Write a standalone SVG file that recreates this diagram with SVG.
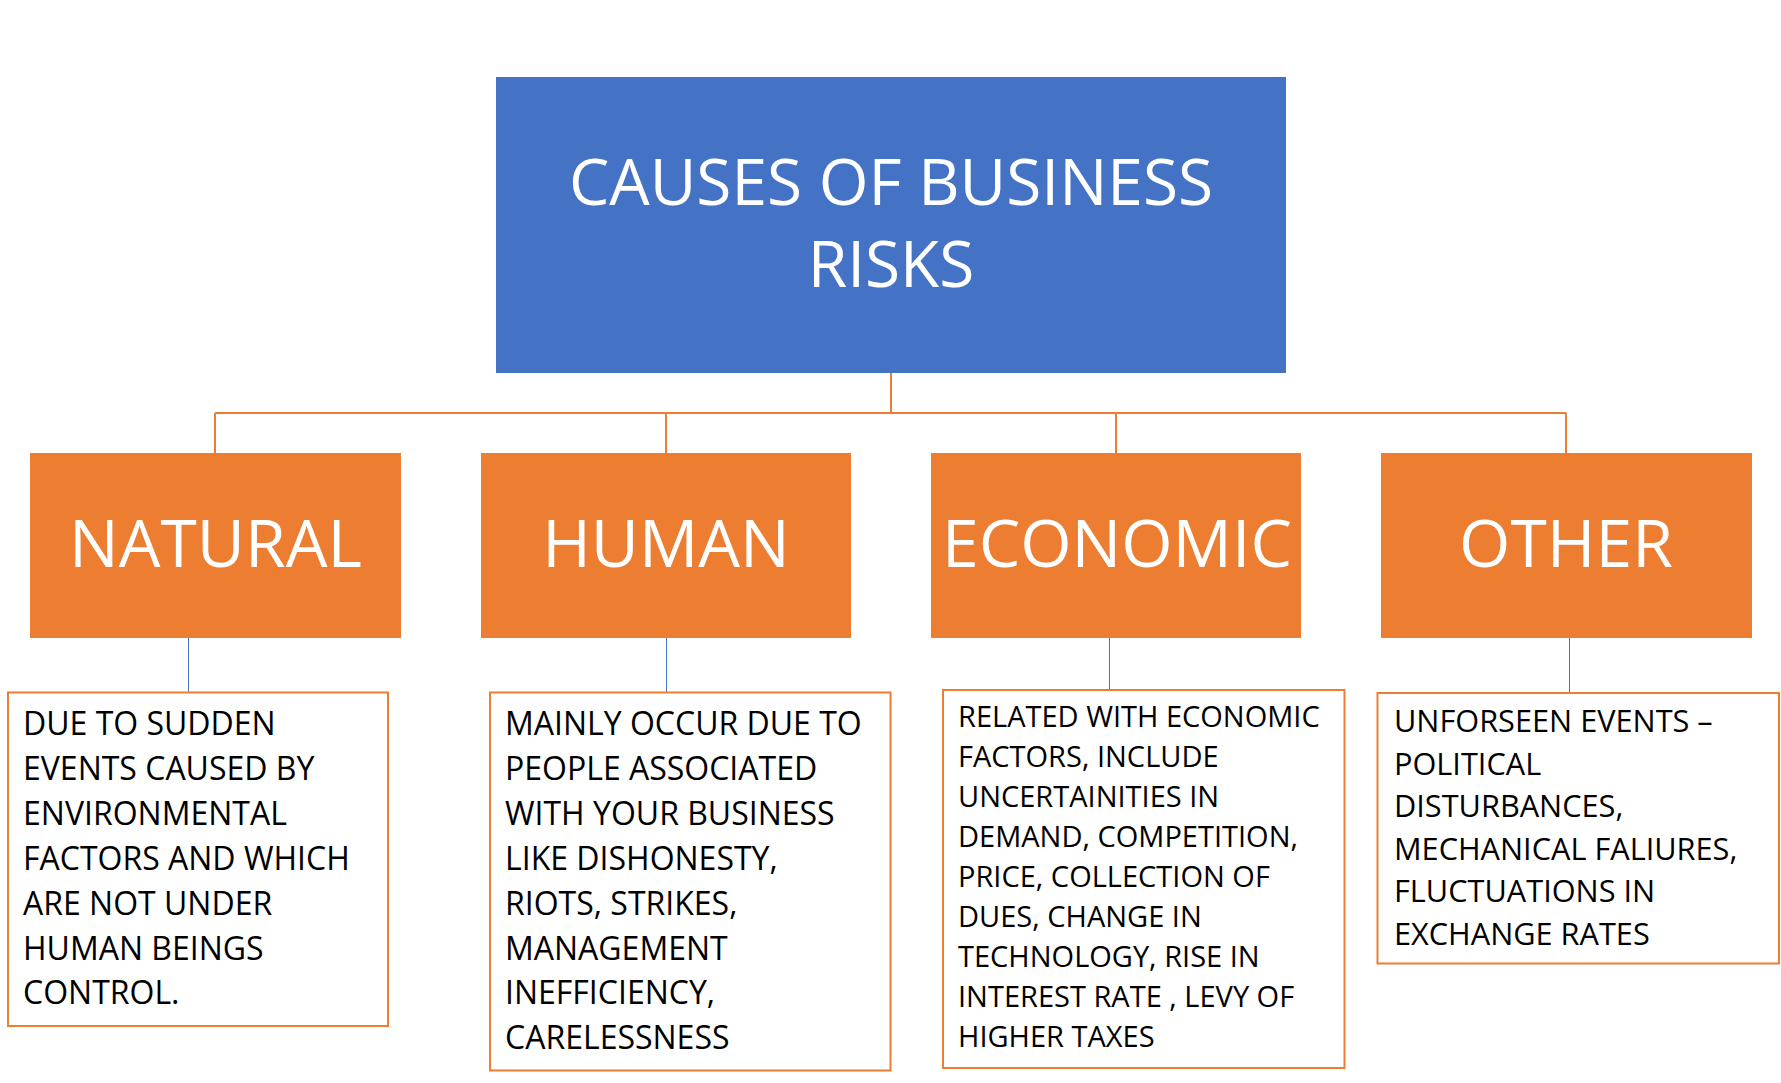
<svg xmlns="http://www.w3.org/2000/svg" width="1781" height="1083" viewBox="0 0 1781 1083">
<style>
.root{fill:#4472C4}
.cat{fill:#ED7D31}
.desc{fill:#FFFFFF;stroke:#ED7D31;stroke-width:2}
.conn{fill:none;stroke:#ED7D31;stroke-width:2}
.sub{fill:none;stroke:#4472C4;stroke-width:1}
.title{font-family:"Open Sans","Liberation Sans",sans-serif;font-size:64px;fill:#FFFFFF;text-anchor:middle}
.lbl{font-family:"Open Sans","Liberation Sans",sans-serif;font-size:66px;fill:#FFFFFF;text-anchor:middle}
.t32{font-family:"Open Sans","Liberation Sans",sans-serif;font-size:32px;fill:#000000}
.t28{font-family:"Open Sans","Liberation Sans",sans-serif;font-size:29px;fill:#000000}
.t30{font-family:"Open Sans","Liberation Sans",sans-serif;font-size:30.7px;fill:#000000}
</style>
<rect width="1781" height="1083" fill="#FFFFFF"/>
<g id="connectors">
<path class="conn" d="M891,373 V413 M215,413 H1566 M215,413 V453 M666,413 V453 M1116,413 V453 M1566,413 V453"/>
<path class="sub" d="M188.5,638 V692 M666.5,638 V692 M1109.5,638 V690 M1569.5,638 V693"/>
</g>
<g id="root">
<rect class="root" x="496" y="77" width="790" height="296"/>
<text class="title" x="891" y="205">CAUSES OF BUSINESS</text>
<text class="title" x="891" y="287">RISKS</text>
</g>
<g id="natural">
<rect class="cat" x="30" y="453" width="371" height="185"/>
<text class="lbl" x="215.5" y="567">NATURAL</text>
</g>
<g id="human">
<rect class="cat" x="481" y="453" width="370" height="185"/>
<text class="lbl" x="666" y="567">HUMAN</text>
</g>
<g id="economic">
<rect class="cat" x="931" y="453" width="370" height="185"/>
<text class="lbl" x="1117" y="567">ECONOMIC</text>
</g>
<g id="other">
<rect class="cat" x="1381" y="453" width="371" height="185"/>
<text class="lbl" x="1566" y="567">OTHER</text>
</g>
<g id="natural-desc">
<rect class="desc" x="8" y="692.5" width="380" height="333.5"/>
<text class="t32" x="23" y="735">DUE TO SUDDEN</text>
<text class="t32" x="23" y="780">EVENTS CAUSED BY</text>
<text class="t32" x="23" y="825">ENVIRONMENTAL</text>
<text class="t32" x="23" y="870">FACTORS AND WHICH</text>
<text class="t32" x="23" y="915">ARE NOT UNDER</text>
<text class="t32" x="23" y="960">HUMAN BEINGS</text>
<text class="t32" x="23" y="1004">CONTROL.</text>
</g>
<g id="human-desc">
<rect class="desc" x="490" y="692.5" width="400.5" height="378"/>
<text class="t32" x="505" y="735">MAINLY OCCUR DUE TO</text>
<text class="t32" x="505" y="780">PEOPLE ASSOCIATED</text>
<text class="t32" x="505" y="825">WITH YOUR BUSINESS</text>
<text class="t32" x="505" y="870">LIKE DISHONESTY,</text>
<text class="t32" x="505" y="915">RIOTS, STRIKES,</text>
<text class="t32" x="505" y="960">MANAGEMENT</text>
<text class="t32" x="505" y="1004">INEFFICIENCY,</text>
<text class="t32" x="505" y="1049">CARELESSNESS</text>
</g>
<g id="economic-desc">
<rect class="desc" x="943" y="690" width="401.5" height="378"/>
<text class="t28" x="958" y="727">RELATED WITH ECONOMIC</text>
<text class="t28" x="958" y="767">FACTORS, INCLUDE</text>
<text class="t28" x="958" y="807">UNCERTAINITIES IN</text>
<text class="t28" x="958" y="847">DEMAND, COMPETITION,</text>
<text class="t28" x="958" y="887">PRICE, COLLECTION OF</text>
<text class="t28" x="958" y="927">DUES, CHANGE IN</text>
<text class="t28" x="958" y="967">TECHNOLOGY, RISE IN</text>
<text class="t28" x="958" y="1007">INTEREST RATE , LEVY OF</text>
<text class="t28" x="958" y="1047">HIGHER TAXES</text>
</g>
<g id="other-desc">
<rect class="desc" x="1377.5" y="693" width="401.5" height="270.5"/>
<text class="t30" x="1394" y="732">UNFORSEEN EVENTS –</text>
<text class="t30" x="1394" y="775">POLITICAL</text>
<text class="t30" x="1394" y="817">DISTURBANCES,</text>
<text class="t30" x="1394" y="860">MECHANICAL FALIURES,</text>
<text class="t30" x="1394" y="902">FLUCTUATIONS IN</text>
<text class="t30" x="1394" y="945">EXCHANGE RATES</text>
</g>
</svg>
